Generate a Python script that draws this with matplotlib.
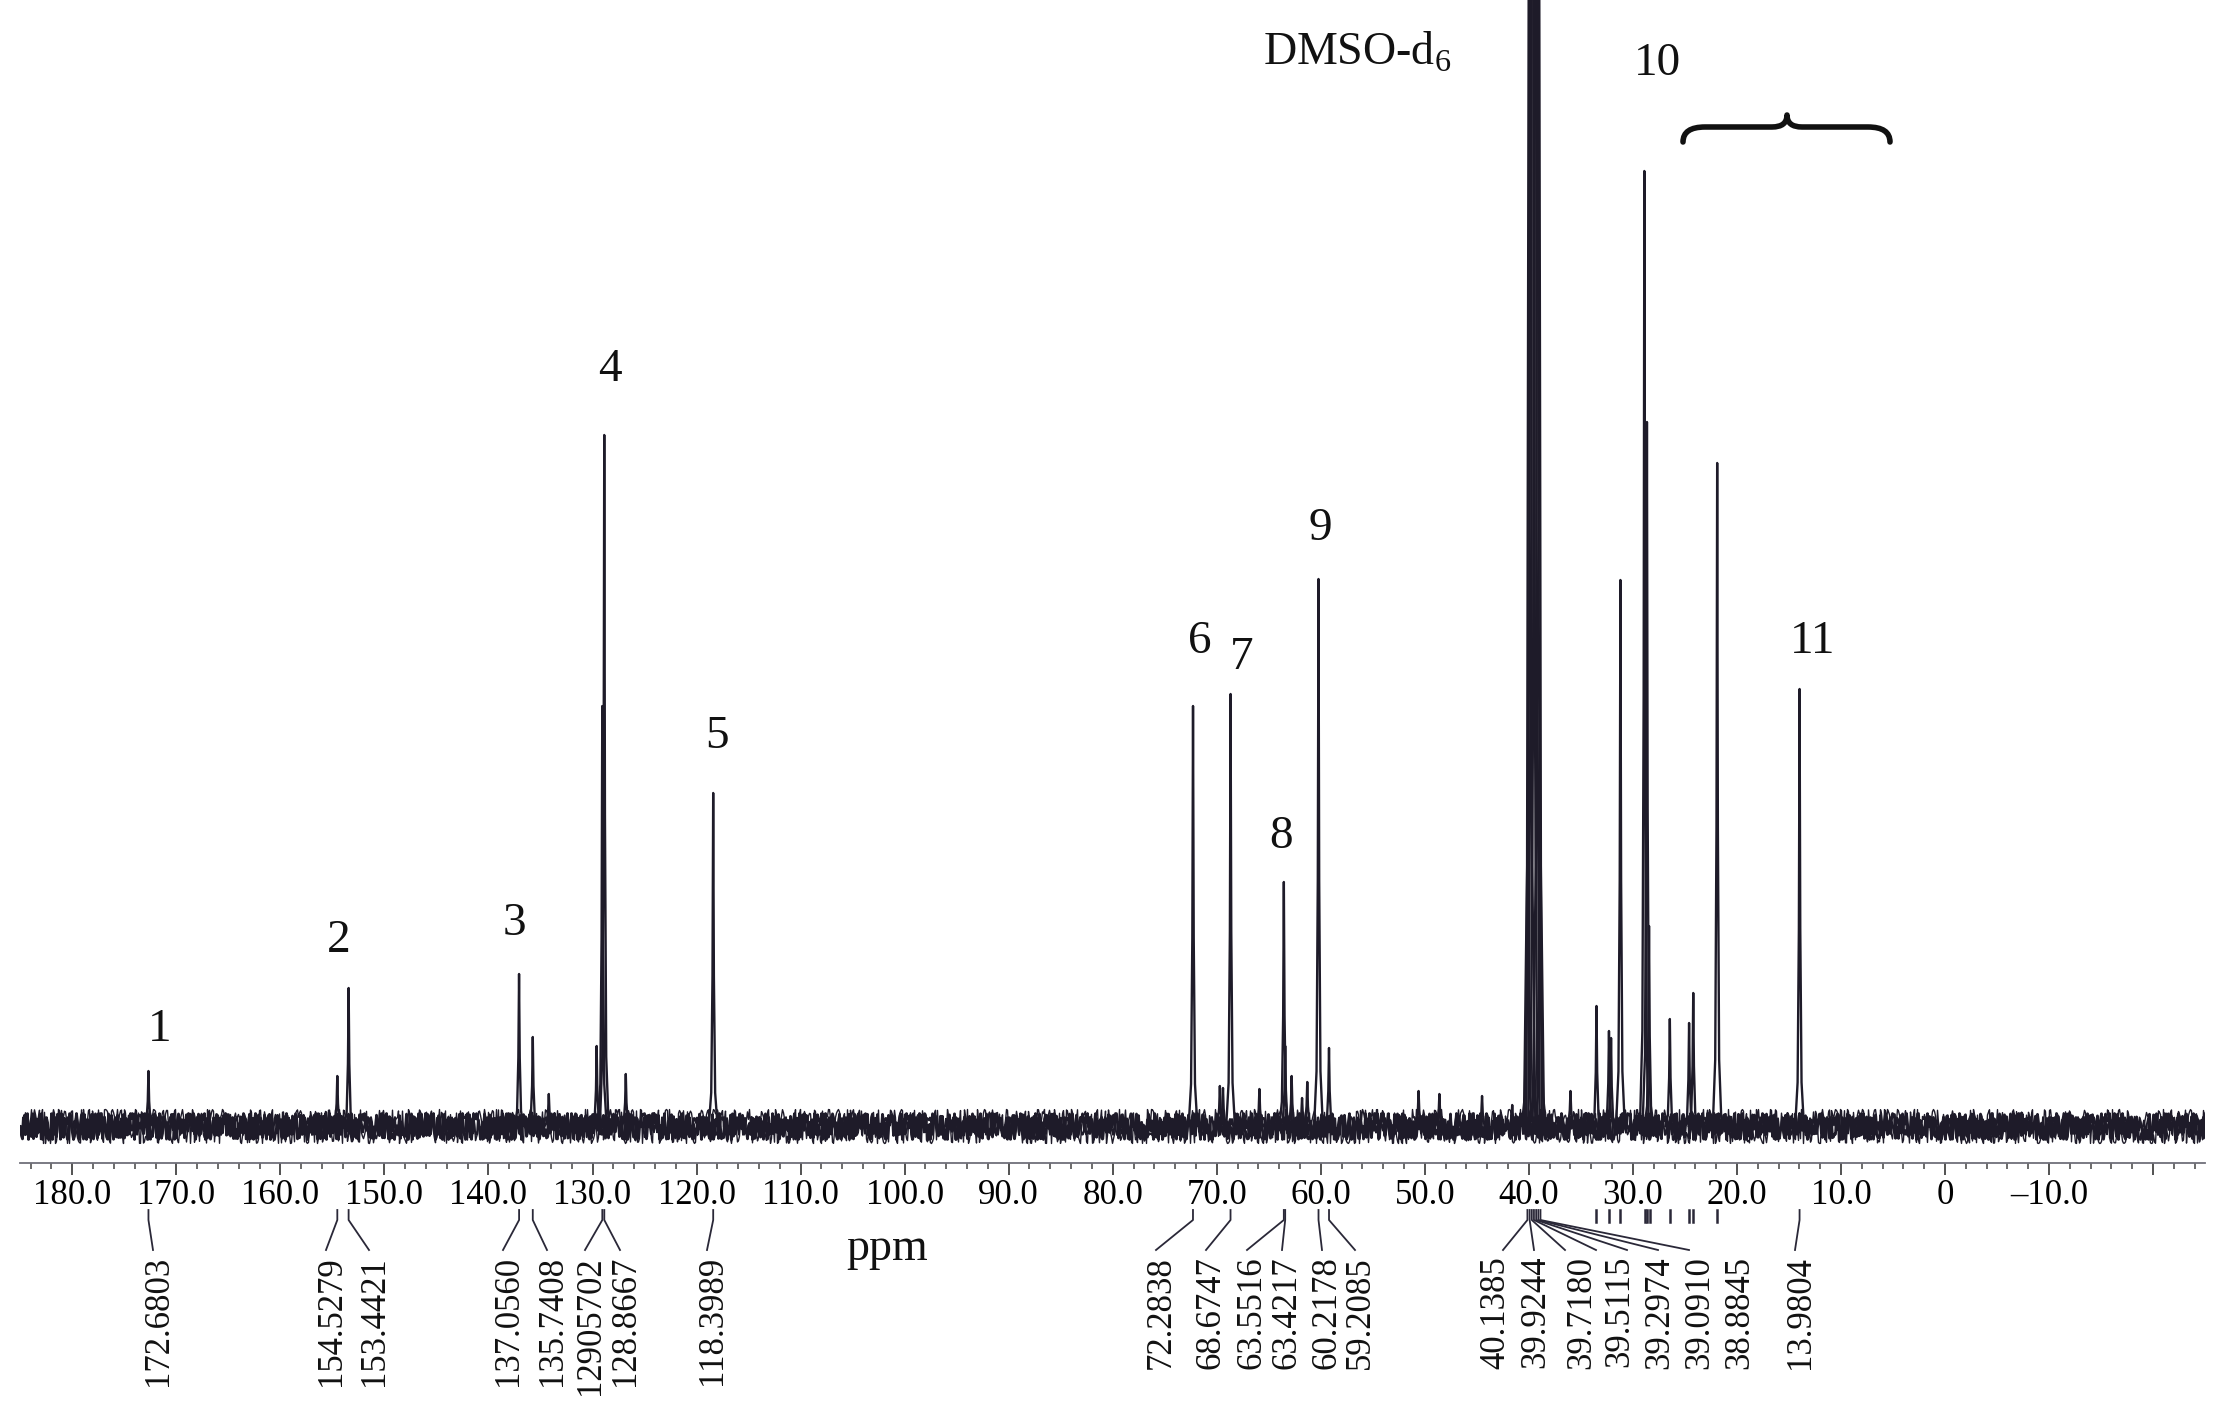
import numpy as np
import matplotlib
matplotlib.use("Agg")
import matplotlib.pyplot as plt
from matplotlib.transforms import blended_transform_factory
from matplotlib.path import Path
from matplotlib.patches import PathPatch

plt.rcParams['font.family'] = ['Liberation Serif', 'DejaVu Serif']
plt.rcParams['mathtext.fontset'] = 'custom'
plt.rcParams['mathtext.rm'] = 'Liberation Serif'

# ---- spectrum lines: chemical shift (ppm) and height above baseline ----
peak_ppm = [172.68, 154.53, 153.44, 137.06, 135.74, 134.2, 129.6, 129.06,
            128.87, 126.8, 118.40, 72.28, 69.7, 69.4, 68.67, 65.9, 63.55,
            63.42, 62.8, 61.8, 61.3, 60.22, 59.21, 50.6, 48.6, 44.5, 41.6,
            36.0, 33.5, 32.3, 32.1, 31.2, 28.9, 28.65, 28.45, 26.45, 24.6,
            24.2, 21.9, 13.98]
peak_height = [55, 50, 138, 152, 89, 32, 80, 420,
               691, 52, 333, 420, 40, 38, 432, 37, 244,
               80, 50, 28, 44, 547, 78, 35, 32, 30, 21,
               35, 120, 95, 88, 546, 955, 704, 200, 107, 103,
               133, 663, 437]

# solvent multiplet (DMSO-d6), goes off scale
dmso_ppm = [40.1385, 39.9244, 39.7180, 39.5115, 39.2974, 39.0910, 38.8845]
dmso_height = [300, 2600, 5000, 6000, 5000, 2600, 300]

# peak-picking labels printed under the axis
left_labels = ["172.6803", "154.5279", "153.4421", "137.0560", "135.7408",
               "12905702", "128.8667", "118.3989"]
left_label_ppm = [172.6803, 154.5279, 153.4421, 137.0560, 135.7408,
                  129.0570, 128.8667, 118.3989]
right_labels = ["72.2838", "68.6747", "63.5516", "63.4217", "60.2178",
                "59.2085"]
right_label_ppm = [72.2838, 68.6747, 63.5516, 63.4217, 60.2178, 59.2085]
dmso_labels = ["40.1385", "39.9244", "39.7180", "39.5115", "39.2974",
               "39.0910", "38.8845"]
end_labels = ["13.9804"]
end_label_ppm = [13.9804]

# unlabelled pick marks in the alkyl region
mark_ppm = [33.5, 32.3, 31.2, 28.8, 28.6, 28.4, 26.45, 24.6, 24.2, 21.9]

# assignment numbers
assign_text = ["1", "2", "3", "4", "5", "6", "7", "8", "9", "10", "11"]

tick_vals = [180, 170, 160, 150, 140, 130, 120, 110, 100, 90, 80, 70, 60,
             50, 40, 30, 20, 10, 0, -10, -20]
tick_text = ["180.0", "170.0", "160.0", "150.0", "140.0", "130.0", "120.0",
             "110.0", "100.0", "90.0", "80.0", "70.0", "60.0", "50.0",
             "40.0", "30.0", "20.0", "10.0", "0", "\u201310.0", ""]

# ---- layout (pixels of the 2213 x 1408 canvas) ----
W, H = 2213, 1408
X0, PX_PER_PPM = 72.3, 10.404          # x pixel of 180 ppm, scale
def px2ppm(x):
    return 180 - (x - X0) / PX_PER_PPM

left_label_x = [158, 331, 374, 508, 552, 590, 625, 712]
right_label_x = [1161, 1211, 1252, 1287, 1327, 1360]
dmso_label_x = [1496, 1536, 1582, 1620, 1660, 1700, 1740]
dmso_line_end_x = [1503, 1534, 1565, 1596, 1627, 1658, 1689]
end_label_x = [1800]
# assignment number positions (x px, y px)
assign_xy = [(160, 1030), (339, 941), (514, 924), (610, 370), (717, 737),
             (1200, 642), (1242, 658), (1281, 837), (1320, 529),
             (1657, 64), (1813, 642)]

BASE_Y = 1126       # baseline pixel row
AXIS_Y = 1163       # axis line pixel row
LINE_TOP, LINE_MID, LINE_BOT, LABEL_TOP = 1210, 1220, 1250, 1256
HALF_W = 0.42       # half width of a drawn line at its foot, ppm
DMSO_W = 0.55
# line shape: offset from centre (fraction of half width) vs height fraction
SHAPE_DX = [1.0, 0.45, 0.16, 0.0]
SHAPE_DY = [0.0, 0.10, 0.45, 1.0]
INK = '#1e1b29'

fig = plt.figure(figsize=(W / 100, H / 100), dpi=100)
ax = fig.add_axes([20 / W, (H - AXIS_Y) / H, (2205 - 20) / W, AXIS_Y / H])
ax.set_xlim(px2ppm(20), px2ppm(2205))
ax.set_ylim(BASE_Y - AXIS_Y, BASE_Y)

# baseline noise (drawn with matplotlib's sketch filter)
xs = [px2ppm(20), px2ppm(2205)]
noise, = ax.plot(xs, [0, 0], color=INK, lw=2.0)
noise.set_sketch_params(scale=13, length=2.0, randomness=4)
noise2, = ax.plot(xs, [0, 0], color=INK, lw=1.4)
noise2.set_sketch_params(scale=9, length=3.5, randomness=3)
noise3, = ax.plot(xs, [0, 0], color=INK, lw=1.0)
noise3.set_sketch_params(scale=17, length=6.0, randomness=5)


def draw_line(p, h, w):
    dx = [p + w * d for d in SHAPE_DX] + [p - w * d for d in SHAPE_DX[::-1]]
    dy = [h * f for f in SHAPE_DY] + [h * f for f in SHAPE_DY[::-1]]
    ax.plot(dx, dy, color=INK, lw=1.7)


for p, h in zip(peak_ppm, peak_height):
    draw_line(p, h, HALF_W)
for p, h in zip(dmso_ppm, dmso_height):
    draw_line(p, h, DMSO_W)

for s in ['top', 'left', 'right']:
    ax.spines[s].set_visible(False)
ax.spines['bottom'].set_color('#6f6f7a')
ax.spines['bottom'].set_linewidth(1.3)
ax.set_yticks([])
ax.set_xticks(tick_vals)
ax.set_xticklabels(tick_text)
ax.set_xticks(np.arange(184, -25, -2), minor=True)
ax.tick_params(axis='x', which='major', direction='out', length=8.5,
               width=1.3, color='#444', labelsize=25, pad=3)
ax.tick_params(axis='x', which='minor', direction='out', length=4.5,
               width=1.1, color='#444')

# ---- everything under the axis: x in ppm, y in canvas pixels ----
tr = blended_transform_factory(ax.transData, fig.transFigure)
def fy(y):
    return 1 - y / H

def connector(p, end_x):
    ax.plot([p, p, px2ppm(end_x)], [fy(LINE_TOP), fy(LINE_MID), fy(LINE_BOT)],
            transform=tr, clip_on=False, color='#2a2838', lw=1.3)

groups = [(left_labels, left_label_ppm, left_label_x, None),
          (right_labels, right_label_ppm, right_label_x, None),
          (dmso_labels, dmso_ppm, dmso_label_x, dmso_line_end_x),
          (end_labels, end_label_ppm, end_label_x, None)]
for texts, ppms, lx, ends in groups:
    for i, (t, p, x) in enumerate(zip(texts, ppms, lx)):
        connector(p, ends[i] if ends else x - 5)
        ax.text(px2ppm(x), fy(LABEL_TOP), t, transform=tr, rotation=90,
                ha='center', va='top', fontsize=25, color='#111')

for p in mark_ppm:
    ax.plot([p, p], [fy(LINE_TOP), fy(LINE_MID + 2)], transform=tr,
            clip_on=False, color='#2a2838', lw=1.8)

ax.text(px2ppm(887), fy(1249), "ppm", transform=tr, ha='center',
        va='center', fontsize=33, color='#111')

# ---- assignment numbers and solvent label ----
for t, (x, y) in zip(assign_text, assign_xy):
    ax.text(px2ppm(x), BASE_Y - y, t, ha='center', va='center',
            fontsize=34, color='#111')
ax.text(px2ppm(1263), BASE_Y - 52, r"DMSO-d$_\mathregular{6}$",
        ha='left', va='center', fontsize=33, color='#111')

# curly brace over the alkyl chain signals
bx = [px2ppm(v) for v in (1683, 1705, 1772, 1787, 1802, 1868, 1890)]
by = [BASE_Y - v for v in (142, 127, 115)]
verts = [(bx[0], by[0]), (bx[0], by[1]), (bx[1], by[1]),
         (bx[2], by[1]),
         (bx[3], by[1]), (bx[3], by[2]),
         (bx[3], by[1]), (bx[4], by[1]),
         (bx[5], by[1]),
         (bx[6], by[1]), (bx[6], by[0])]
codes = [Path.MOVETO, Path.CURVE3, Path.CURVE3, Path.LINETO,
         Path.CURVE3, Path.CURVE3, Path.CURVE3, Path.CURVE3,
         Path.LINETO, Path.CURVE3, Path.CURVE3]
ax.add_patch(PathPatch(Path(verts, codes), fill=False, lw=4, color='#111',
                       capstyle='round', joinstyle='round', clip_on=False))

fig.savefig("out.png", dpi=100)
